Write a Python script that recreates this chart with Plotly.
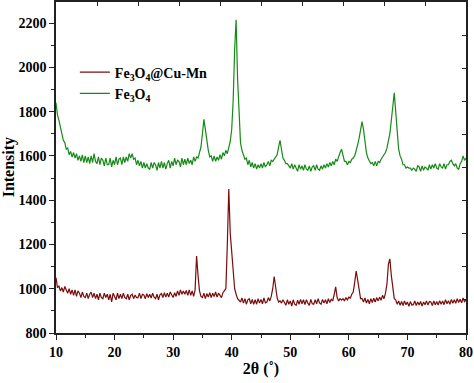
import plotly.graph_objects as go

two_theta = [
    10, 10.25, 10.5, 10.75, 11, 11.25, 11.5, 11.75, 12, 12.25, 12.5, 12.75,
    13, 13.25, 13.5, 13.75, 14, 14.25, 14.5, 14.75, 15, 15.25, 15.5, 15.75,
    16, 16.25, 16.5, 16.75, 17, 17.25, 17.5, 17.75, 18, 18.25, 18.5, 18.75,
    19, 19.25, 19.5, 19.75, 20, 20.25, 20.5, 20.75, 21, 21.25, 21.5, 21.75,
    22, 22.25, 22.5, 22.75, 23, 23.25, 23.5, 23.75, 24, 24.25, 24.5, 24.75,
    25, 25.25, 25.5, 25.75, 26, 26.25, 26.5, 26.75, 27, 27.25, 27.5, 27.75,
    28, 28.25, 28.5, 28.75, 29, 29.25, 29.5, 29.75, 30, 30.25, 30.5, 30.75,
    31, 31.25, 31.5, 31.75, 32, 32.25, 32.5, 32.75, 33, 33.25, 33.5, 33.75,
    34, 34.25, 34.5, 34.75, 35, 35.25, 35.5, 35.75, 36, 36.25, 36.5, 36.75,
    37, 37.25, 37.5, 37.75, 38, 38.25, 38.5, 38.75, 39, 39.25, 39.5, 39.75,
    40, 40.25, 40.5, 40.75, 41, 41.25, 41.5, 41.75, 42, 42.25, 42.5, 42.75,
    43, 43.25, 43.5, 43.75, 44, 44.25, 44.5, 44.75, 45, 45.25, 45.5, 45.75,
    46, 46.25, 46.5, 46.75, 47, 47.25, 47.5, 47.75, 48, 48.25, 48.5, 48.75,
    49, 49.25, 49.5, 49.75, 50, 50.25, 50.5, 50.75, 51, 51.25, 51.5, 51.75,
    52, 52.25, 52.5, 52.75, 53, 53.25, 53.5, 53.75, 54, 54.25, 54.5, 54.75,
    55, 55.25, 55.5, 55.75, 56, 56.25, 56.5, 56.75, 57, 57.25, 57.5, 57.75,
    58, 58.25, 58.5, 58.75, 59, 59.25, 59.5, 59.75, 60, 60.25, 60.5, 60.75,
    61, 61.25, 61.5, 61.75, 62, 62.25, 62.5, 62.75, 63, 63.25, 63.5, 63.75,
    64, 64.25, 64.5, 64.75, 65, 65.25, 65.5, 65.75, 66, 66.25, 66.5, 66.75,
    67, 67.25, 67.5, 67.75, 68, 68.25, 68.5, 68.75, 69, 69.25, 69.5, 69.75,
    70, 70.25, 70.5, 70.75, 71, 71.25, 71.5, 71.75, 72, 72.25, 72.5, 72.75,
    73, 73.25, 73.5, 73.75, 74, 74.25, 74.5, 74.75, 75, 75.25, 75.5, 75.75,
    76, 76.25, 76.5, 76.75, 77, 77.25, 77.5, 77.75, 78, 78.25, 78.5, 78.75,
    79, 79.25, 79.5, 79.75, 80,
]

fe3o4_cu_mn = [
    1050, 1005, 1012, 990, 1005, 985, 1010, 990, 980, 1000, 975, 995,
    970, 995, 965, 990, 980, 960, 985, 965, 960, 980, 955, 975,
    985, 960, 980, 955, 975, 950, 980, 960, 955, 980, 960, 975,
    950, 975, 940, 980, 960, 950, 980, 955, 975, 955, 980, 960,
    955, 975, 950, 970, 975, 955, 972, 960, 960, 980, 955, 975,
    972, 955, 978, 960, 975, 958, 980, 962, 955, 975, 950, 972,
    978, 960, 982, 962, 980, 962, 985, 968, 960, 982, 965, 990,
    970, 995, 975, 990, 975, 992, 970, 995, 970, 990, 965, 995,
    1148, 1060, 990, 965, 960, 980, 955, 978, 962, 982, 960, 980,
    965, 985, 962, 980, 968, 960, 982, 990, 1000, 1200, 1450, 1250,
    1160, 1060, 1000, 975, 955, 948, 940, 958, 935, 955, 930, 950,
    955, 932, 952, 930, 950, 930, 955, 935, 952, 932, 958, 936,
    940, 960, 945, 965, 1000, 1055, 1000, 960, 940, 945, 935, 950,
    938, 925, 950, 930, 945, 922, 950, 930, 925, 948, 930, 952,
    932, 950, 928, 950, 935, 925, 952, 932, 930, 950, 932, 955,
    936, 930, 952, 935, 950, 932, 955, 938, 952, 945, 975, 1008,
    960, 945, 955, 948, 955, 945, 960, 950, 962, 958, 975, 985,
    1030, 1080, 1040, 990, 955, 955, 940, 958, 935, 952, 932, 955,
    938, 957, 940, 960, 945, 962, 948, 970, 955, 980, 1020, 1110,
    1135, 1060, 990, 955, 950, 930, 945, 925, 942, 924, 945, 928,
    940, 920, 942, 926, 928, 945, 924, 940, 926, 942, 922, 940,
    928, 945, 926, 942, 940, 924, 945, 928, 942, 926, 946, 930,
    945, 928, 950, 932, 946, 930, 952, 934, 950, 934, 955, 938,
    952, 936, 958, 942, 950,
]

fe3o4 = [
    1840, 1785, 1760, 1725, 1705, 1670, 1660, 1630, 1635, 1605, 1620, 1595,
    1615, 1590, 1610, 1580, 1600, 1575, 1605, 1570, 1600, 1570, 1595, 1565,
    1600, 1570, 1610, 1575, 1565, 1595, 1560, 1590, 1580, 1555, 1590, 1560,
    1560, 1590, 1550, 1580, 1560, 1595, 1560, 1585, 1590, 1560, 1595, 1570,
    1595, 1575, 1610, 1590, 1610, 1585, 1590, 1560, 1580, 1555, 1575, 1545,
    1570, 1545, 1565, 1545, 1540, 1570, 1545, 1570, 1560, 1535, 1570, 1545,
    1575, 1545, 1570, 1540, 1565, 1580, 1545, 1575, 1555, 1590, 1560, 1580,
    1575, 1550, 1590, 1560, 1585, 1560, 1590, 1565, 1580, 1560, 1595, 1575,
    1595, 1590, 1615, 1640, 1700, 1765, 1720, 1660, 1625, 1595, 1600, 1575,
    1600, 1575, 1595, 1580, 1605, 1585, 1615, 1600, 1625, 1610, 1645, 1665,
    1720, 1850, 2080, 2215, 1950, 1760, 1660, 1625, 1600, 1585, 1590, 1560,
    1580, 1550, 1570, 1545, 1565, 1540, 1560, 1545, 1565, 1545, 1570, 1550,
    1560, 1575, 1555, 1580, 1575, 1585, 1590, 1605, 1640, 1670, 1630, 1590,
    1580, 1565, 1565, 1555, 1545, 1565, 1540, 1560, 1545, 1530, 1560, 1540,
    1555, 1535, 1560, 1540, 1535, 1555, 1530, 1550, 1555, 1535, 1560, 1540,
    1535, 1555, 1540, 1560, 1545, 1565, 1550, 1570, 1555, 1575, 1560, 1585,
    1575, 1600, 1615, 1630, 1595, 1575, 1575, 1560, 1575, 1570, 1585, 1590,
    1600, 1620, 1650, 1680, 1730, 1755, 1720, 1660, 1615, 1590, 1580, 1565,
    1570, 1555, 1575, 1555, 1575, 1570, 1585, 1595, 1600, 1615, 1635, 1670,
    1700, 1760, 1840, 1885, 1800, 1700, 1630, 1600, 1585, 1560, 1560, 1545,
    1550, 1545, 1545, 1535, 1545, 1540, 1530, 1555, 1550, 1530, 1555, 1535,
    1550, 1545, 1535, 1560, 1540, 1560, 1545, 1565, 1545, 1540, 1565, 1550,
    1545, 1565, 1540, 1560, 1560, 1575, 1580, 1565, 1555, 1565, 1545, 1540,
    1565, 1575, 1600, 1580, 1590,
]

x_ticks = [10, 20, 30, 40, 50, 60, 70, 80]
y_ticks = [800, 1000, 1200, 1400, 1600, 1800, 2000, 2200]
top_ticks = [17, 24, 31, 38, 45, 52, 59, 66, 73]
right_ticks = [949.5, 1099, 1248.5, 1398, 1547.5, 1697, 1846.5, 1996, 2145.5]

X_RANGE = [10, 80]
Y_RANGE = [800, 2295]

FONT = "Liberation Serif, Times New Roman, serif"

fig = go.Figure()
fig.add_trace(go.Scatter(
    x=two_theta, y=fe3o4_cu_mn, mode="lines",
    name="Fe<sub>3</sub>O<sub>4</sub>@Cu-Mn",
    line=dict(color="#7a0c0c", width=1.2),
))
fig.add_trace(go.Scatter(
    x=two_theta, y=fe3o4, mode="lines",
    name="Fe<sub>3</sub>O<sub>4</sub>",
    line=dict(color="#168a16", width=1.2),
))
# helper (empty) trace on the top/right mirror axes
fig.add_trace(go.Scatter(x=[], y=[], xaxis="x2", yaxis="y2",
                         showlegend=False, hoverinfo="skip"))

axis_common = dict(showgrid=False, zeroline=False, showline=True,
                   linecolor="#222", linewidth=1.5, tickcolor="#222",
                   tickwidth=1.2, automargin=False)

tick_font = dict(family=FONT, size=14, color="black", weight="bold")
title_font = dict(family=FONT, size=16, color="black", weight="bold")

fig.update_layout(
    width=474, height=383,
    margin=dict(l=56, r=8, t=2, b=50),
    plot_bgcolor="white", paper_bgcolor="white",
    font=dict(family=FONT, size=14, color="black", weight="bold"),
    xaxis=dict(
        range=X_RANGE, tickvals=x_ticks, ticks="outside", ticklen=5,
        minor=dict(ticks="outside", ticklen=3, dtick=5, tick0=10,
                   tickcolor="#222", tickwidth=1.2),
        tickfont=tick_font, ticklabeloverflow="allow",
        title=dict(text="2θ (˚)", standoff=4, font=title_font),
        **axis_common,
    ),
    yaxis=dict(
        range=Y_RANGE, tickvals=y_ticks, ticks="outside", ticklen=5,
        minor=dict(ticks="outside", ticklen=3, dtick=100, tick0=800,
                   tickcolor="#222", tickwidth=1.2),
        tickfont=tick_font, ticklabeloverflow="allow",
        **axis_common,
    ),
    xaxis2=dict(
        overlaying="x", side="top", range=X_RANGE, tickvals=top_ticks,
        ticks="inside", ticklen=4, showticklabels=False, **axis_common,
    ),
    yaxis2=dict(
        overlaying="y", side="right", range=Y_RANGE, tickvals=right_ticks,
        ticks="inside", ticklen=4, showticklabels=False, **axis_common,
    ),
    legend=dict(
        x=0.046, y=0.835, xanchor="left", yanchor="top",
        bgcolor="rgba(0,0,0,0)", borderwidth=0,
        font=dict(family=FONT, size=14, color="black", weight="bold"),
        itemwidth=30, tracegroupgap=0,
    ),
    annotations=[dict(
        text="Intensity", textangle=-90, xref="paper", yref="paper",
        x=-0.115, y=0.5, xanchor="center", yanchor="middle",
        showarrow=False, font=title_font,
    )],
    showlegend=True,
)

fig.write_html(
    "out.html",
    config={"displayModeBar": False},
    post_script="document.body.style.margin='0';document.body.style.overflow='hidden';",
)
